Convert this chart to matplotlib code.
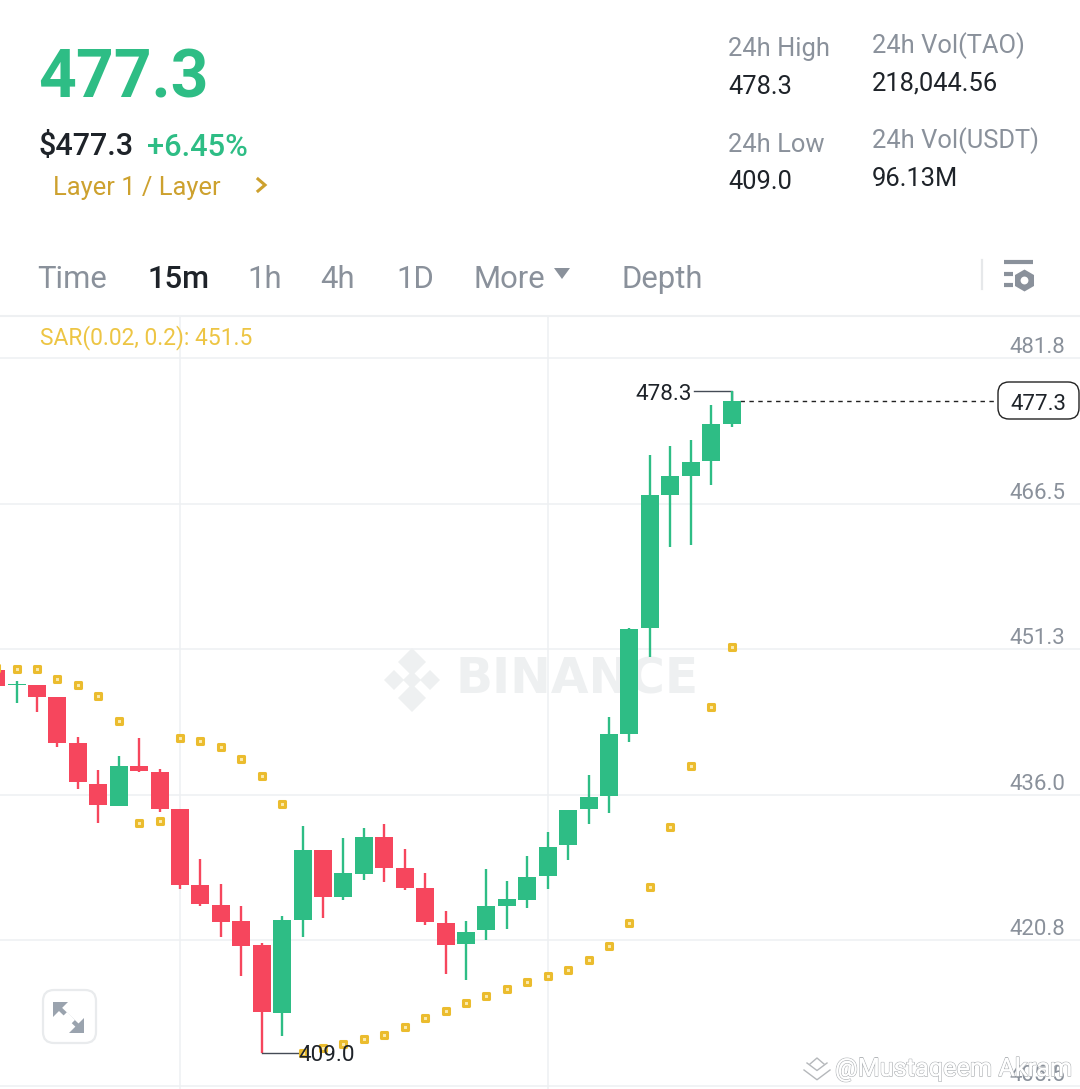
"""Recreate the TAO/USDT 15m candlestick screen as a matplotlib figure."""
import matplotlib

matplotlib.use("Agg")
import matplotlib.patheffects as pe
import matplotlib.pyplot as plt
from matplotlib.patches import FancyBboxPatch, Polygon

plt.rcParams["font.family"] = ["Roboto", "DejaVu Sans"]

GREEN = "#2EBD85"
RED = "#F6465D"
DARK = "#1E2329"
GRAY = "#8A919B"
LIGHT_LINE = "#EEF0F2"
GOLD = "#CDA12E"
SAR_YELLOW = "#EBBC2E"

opens = [449.10, 447.52, 447.49, 446.30, 441.48, 437.18, 434.87, 439.00, 438.40, 434.49,
         426.56, 424.46, 422.75, 420.27, 413.11, 422.89, 430.20, 425.30, 427.71, 431.59,
         428.31, 426.28, 422.58, 420.38, 421.81, 424.39, 424.99, 427.50, 430.72, 434.49,
         435.92, 442.36, 453.53, 467.44, 469.43, 470.97, 474.88]
closes = [447.45, 447.68, 446.23, 441.41, 437.39, 434.91, 439.00, 438.51, 434.49, 426.56,
          424.57, 422.68, 420.20, 413.22, 422.89, 430.20, 425.30, 427.79, 431.59, 428.31,
          426.28, 422.68, 420.27, 421.63, 424.39, 425.06, 427.37, 430.54, 434.39, 435.75,
          442.39, 453.39, 467.41, 469.43, 470.90, 474.91, 477.30]
highs = [449.31, 447.97, 447.52, 446.32, 442.10, 438.61, 440.08, 441.97, 438.72, 434.52,
         429.29, 426.66, 424.36, 420.45, 423.31, 432.78, 430.26, 431.46, 432.50, 432.95,
         430.30, 427.79, 423.87, 422.75, 428.27, 426.95, 429.57, 432.08, 434.42, 438.09,
         444.20, 453.50, 471.63, 472.58, 473.20, 476.84, 478.30]
lows = [447.42, 445.64, 444.73, 440.99, 436.59, 433.09, 434.84, 438.46, 434.18, 426.17,
        424.36, 421.08, 417.05, 409.00, 410.76, 421.08, 423.10, 424.99, 427.12, 426.91,
        426.07, 422.40, 417.20, 416.60, 420.79, 421.98, 424.18, 426.17, 429.18, 432.92,
        434.08, 441.58, 450.43, 462.02, 462.23, 468.46, 474.60]
sar = [449.31, 449.20, 449.20, 448.15, 447.52, 446.40, 443.75, 433.09, 433.27, 442.00,
       441.69, 440.99, 439.80, 437.99, 435.08, 408.98, 409.44, 409.89, 410.39, 410.81,
       411.71, 412.59, 413.38, 414.19, 414.92, 415.66, 416.36, 416.99, 417.65, 418.67,
       420.20, 422.61, 426.35, 432.67, 439.06, 445.22, 451.54]

price_ticks = [481.8, 466.5, 451.3, 436.0, 420.8, 405.5]
price_labels = ["481.8", "466.5", "451.3", "436.0", "420.8", "405.5"]
time_grid = [9, 27]

last_price = 477.3
high_price = 478.3
low_price = 409.0
high_index = 36
low_index = 13

fig = plt.figure(figsize=(10.8, 10.89), dpi=100, facecolor="white")

# the watermark sits behind the candles, so it gets its own axes at the bottom
back = fig.add_axes([0, 0, 1, 1], zorder=0)
back.set_xlim(0, 1080)
back.set_ylim(1089, 0)
back.axis("off")
back.text(455, 680, "BINANCE", fontsize=35, fontweight="bold", family="DejaVu Sans",
          color="#EEF0F1", va="center")
for cx, cy, r in [(412, 662, 14), (412, 698, 14), (394, 680, 10), (430, 680, 10), (412, 680, 9)]:
    back.add_patch(Polygon([[cx, cy - r], [cx + r, cy], [cx, cy + r], [cx - r, cy]], closed=True,
                           color="#EEF0F1", lw=0))

# chart area, candle spacing is 20.43 px and candle 0 sits just off the left edge
ax = fig.add_axes([0, 0, 1, 773 / 1089], zorder=1)
ax.patch.set_alpha(0)
ax.set_xlim(3.9 / 20.43, 1083.9 / 20.43)
ax.set_ylim(405.19, 486.2)
ax.set_xticks(time_grid)
ax.set_yticks(price_ticks)
ax.tick_params(length=0, labelleft=False, labelbottom=False)
ax.grid(color=LIGHT_LINE, linewidth=1.1)
ax.set_axisbelow(True)
for name, spine in ax.spines.items():
    spine.set_visible(name == "top")
    spine.set_color(LIGHT_LINE)
    spine.set_linewidth(1.5)

index = list(range(len(opens)))
colors = [GREEN if c >= o else RED for o, c in zip(opens, closes)]
ax.vlines(index, lows, highs, colors=colors, linewidth=1.7, zorder=3)
ax.bar(index, [abs(c - o) for o, c in zip(opens, closes)],
       bottom=[min(o, c) for o, c in zip(opens, closes)],
       width=0.88, color=colors, linewidth=0, zorder=4)
ax.scatter(index, sar, marker="s", s=22, facecolor="#FBEBB0", edgecolor=SAR_YELLOW,
           linewidth=2.2, zorder=5)

for price, label in zip(price_ticks, price_labels):
    ax.annotate(label, xy=(1, price), xycoords=ax.get_yaxis_transform(),
                xytext=(-10.5, 0), textcoords="offset points", ha="right", va="bottom",
                fontsize=16, color=GRAY, zorder=6)

# high, low and last price markers
ax.plot([high_index - 1.82, high_index, high_index],
        [high_price, high_price, closes[-1]], color="#444B55", linewidth=1, zorder=2)
ax.plot([low_index, low_index + 2], [low_price, low_price], color="#444B55", linewidth=1, zorder=4)
ax.annotate(f"{high_price}", xy=(high_index - 1.95, high_price - 0.3), ha="right", va="center",
            fontsize=16.2, color=DARK, zorder=6)
ax.annotate(f"{low_price}", xy=(low_index + 1.8, low_price - 0.3), ha="left", va="center",
            fontsize=16.2, color=DARK, zorder=6)
ax.plot([high_index + 0.43, 48.9], [last_price, last_price], color="#222", linewidth=1,
        dashes=(3.2, 3.2), zorder=3)

# everything else lives in a pixel-space overlay
ui = fig.add_axes([0, 0, 1, 1], zorder=5)
ui.set_xlim(0, 1080)
ui.set_ylim(1089, 0)
ui.axis("off")
ui.patch.set_alpha(0)

ui.text(38, 80, "477.3", fontsize=47.5, fontweight="bold", color=GREEN, va="center")
ui.text(38, 146, "$477.3", fontsize=22, fontweight="medium", color=DARK, va="center")
ui.text(147, 147, "+6.45%", fontsize=22.2, fontweight="medium", color=GREEN, va="center")
ui.text(53, 188, "Layer 1 / Layer", fontsize=18.4, color=GOLD, va="center")
ui.plot([258, 265, 258], [179, 185, 191], color=GOLD, linewidth=2.2, solid_joinstyle="miter")

for x, y, label, color in [
    (728, 49, "24h High", GRAY), (728, 87, "478.3", DARK),
    (728, 145, "24h Low", GRAY), (728, 182, "409.0", DARK),
    (872, 46, "24h Vol(TAO)", GRAY), (872, 83, "218,044.56", DARK),
    (872, 141, "24h Vol(USDT)", GRAY), (872, 179, "96.13M", DARK),
]:
    ui.text(x, y, label, fontsize=18.4, color=color, va="center")

for x, label, color, weight in [
    (37, "Time", GRAY, "normal"), (147, "15m", DARK, "medium"), (247, "1h", GRAY, "normal"),
    (320, "4h", GRAY, "normal"), (396, "1D", GRAY, "normal"), (473, "More", GRAY, "normal"),
    (621, "Depth", GRAY, "normal"),
]:
    ui.text(x, 279, label, fontsize=22.3, color=color, fontweight=weight, va="center")
ui.add_patch(Polygon([[554, 268], [570, 268], [562, 279]], closed=True, color=GRAY, lw=0))

# settings icon in the tab row
ui.plot([982, 982], [260, 289], color="#E6E8EA", linewidth=1.6)
ui.plot([1004, 1033], [262, 262], color=GRAY, linewidth=3, solid_capstyle="butt")
ui.plot([1004, 1013], [274, 274], color=GRAY, linewidth=3, solid_capstyle="butt")
ui.plot([1004, 1013], [285, 285], color=GRAY, linewidth=3, solid_capstyle="butt")
ui.scatter([1024], [280], marker="h", s=250, color=GRAY, linewidth=0)
ui.scatter([1024], [280], marker="o", s=32, color="white", linewidth=0)

ui.text(40, 338, "SAR(0.02, 0.2): 451.5", fontsize=16.4, color="#EDC544", va="center")

# last price box
ui.add_patch(FancyBboxPatch((998, 382), 81, 37, boxstyle="round,pad=0,rounding_size=11",
                            facecolor="white", edgecolor="#222", linewidth=1))
ui.text(1038, 404, f"{last_price}", fontsize=16, color=DARK, ha="center", va="center")

# expand button
ui.add_patch(FancyBboxPatch((43, 990), 53, 53, boxstyle="round,pad=0,rounding_size=11",
                            facecolor="white", edgecolor="#E9EBED", linewidth=1.6))
ui.add_patch(Polygon([[53, 1002], [68, 1002], [53, 1017]], closed=True, color="#9AA3AE", lw=0))
ui.add_patch(Polygon([[84, 1033], [69, 1033], [84, 1018]], closed=True, color="#9AA3AE", lw=0))
ui.plot([58, 80], [1007, 1028], color="#9AA3AE", linewidth=3.2)
ui.plot([67, 71], [1016, 1020], color="white", linewidth=4)

# outlined author watermark, bottom right
outline = [pe.withStroke(linewidth=1.1, foreground="#B5B8BB"), pe.Normal()]
ui.text(835, 1069, "@Mustaqeem Akram", fontsize=18.2, color="white", va="center",
        path_effects=outline)
for cy, r in [(1063, 10), (1070, 13)]:
    ui.plot([817 - r, 817, 817 + r], [cy, cy + r * 0.75, cy], color="#B5B8BB", linewidth=1)
ui.plot([810, 817, 824], [1064, 1058, 1064], color="#B5B8BB", linewidth=1)

fig.savefig("out.png", dpi=100)
